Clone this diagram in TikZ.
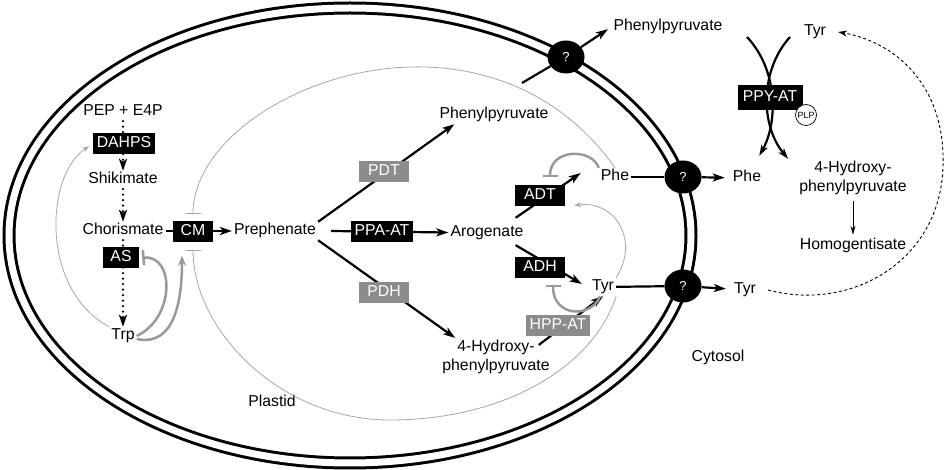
\documentclass[tikz,border=0pt]{standalone}
\usepackage{fontspec}
\setmainfont{Liberation Sans}
\usetikzlibrary{arrows.meta,shapes.geometric}

\begin{document}
\begin{tikzpicture}[x=1pt,y=-1pt,>={Stealth[length=12pt,width=8pt,inset=3pt]},
  font=\fontsize{15.8}{19}\selectfont,inner sep=2pt,
  met/.style={text height=11pt,text depth=3pt},
  enz/.style={met,fill=black,text=white,minimum width=50pt,minimum height=21pt,inner xsep=4pt},
  genz/.style={enz,fill=black!45},
  tp/.style={ellipse,fill=black,text=white,minimum width=37pt,minimum height=33pt,font=\fontsize{13}{13}\selectfont},
  rxn/.style={line width=2.2pt},
  dots/.style={line width=2.6pt,line cap=round,dash pattern=on 0pt off 5.5pt},
  fb/.style={draw=black!40,line width=2.5pt},
  fbthin/.style={draw=black!35,line width=0.8pt},
  inh/.style={-{Bar[width=15pt]}},
  small/.style={-{Stealth[length=7pt,width=5pt]}}]
\useasboundingbox (0,0) rectangle (946,470);

% membrane
\draw[line width=3pt,double=white,double distance=7pt] (350,235.5) ellipse [x radius=341pt,y radius=227.5pt];

% plastid metabolites
\node[met] (pep) at (123,112) {PEP + E4P};
\node[met] (shik) at (123,180) {Shikimate};
\node[met] (chor) at (123,231) {Chorismate};
\node[met] (trp) at (123,336) {Trp};
\node[met] (preph) at (275,231) {Prephenate};
\node[met] (ppyr) at (494,115) {Phenylpyruvate};
\node[met] (aro) at (487,233) {Arogenate};
\node[align=center] (hpp) at (496,357) {4-Hydroxy-\\phenylpyruvate};
\node[met] (phe) at (615,177) {Phe};
\node[met] (tyr) at (603,287) {Tyr};

% cytosol metabolites
\node[met] (ppyr2) at (668,27) {Phenylpyruvate};
\node[met] (phe2) at (747,178) {Phe};
\node[met] (tyr2) at (745,290) {Tyr};
\node[met] (tyr3) at (815,32) {Tyr};
\node[align=center] (hpp2) at (853,178) {4-Hydroxy-\\phenylpyruvate};
\node[met] (hga) at (853,246) {Homogentisate};

\node at (272,401) {Plastid};
\node at (718,357) {Cytosol};

% pathway
\draw[dots,->] (pep) -- (shik);
\draw[dots,->] (shik) -- (chor);
\draw[dots,->] (chor) -- (trp);
\draw[rxn,->] (chor) -- (preph);
\draw[rxn,->] (preph.north east) -- ([xshift=17pt]ppyr.south west);
\draw[rxn,->] ([xshift=13pt]preph.east) -- (aro);
\draw[rxn,->] (preph.south east) -- ([xshift=15pt]hpp.north west);
\draw[rxn,->] ([xshift=-10pt,yshift=6pt]aro.north east) -- ([xshift=-18pt,yshift=4pt]phe.west);
\draw[rxn,->] ([xshift=-10pt,yshift=-3pt]aro.south east) -- ([xshift=-8pt,yshift=3pt]tyr.west);
\draw[rxn,->] ([xshift=-13pt,yshift=-7pt]hpp.north east) -- (tyr.south);

% enzymes
\node[enz] (dahps) at (124,144) {DAHPS};
\node[enz,minimum width=40pt] (cm) at (193,232) {CM};
\node[enz,minimum width=36pt] (as) at (121,258) {AS};
\node[genz] (pdt) at (384,172) {PDT};
\node[enz] (ppaat) at (382,232) {PPA-AT};
\node[genz] (pdh) at (384,293) {PDH};
\node[enz] (adt) at (540,196) {ADT};
\node[enz] (adh) at (540,268) {ADH};
\node[genz] (hppat) at (558,326) {HPP-AT};

% transporters
\node[tp] (tpa) at (566,57) {?};
\node[tp] (tpb) at (683,177) {?};
\node[tp] (tpc) at (683,286) {?};
\coordinate (ppin) at (522,83);
\draw[rxn] (ppin) -- (tpa);
\draw[rxn,->,shorten >=4pt] (tpa) -- (ppyr2.west);
\draw[rxn] (phe) -- (tpb);
\draw[rxn,->,shorten >=6pt] (tpb) -- (phe2);
\draw[rxn] (tyr) -- (tpc);
\draw[rxn,->,shorten >=6pt] (tpc) -- (tyr2);

% regulation
\draw[fbthin,small,shorten >=4pt] (trp.north west) .. controls (40,290) and (45,175) .. (dahps.west);
\draw[fb,inh,shorten >=3pt] (trp.east) .. controls (175,318) and (175,255) .. (as.east);
\draw[fb,-{Stealth[length=10pt,width=8pt]},shorten >=13pt] ([yshift=-3pt]trp.east) .. controls (175,347) and (182,300) .. ([xshift=-11pt]cm.south);
\draw[fbthin,inh,shorten >=7pt] (phe.north) .. controls (560,90) and (480,65) .. (410,67) .. controls (300,70) and (193,140) .. (cm.north);
\draw[fbthin,inh,shorten >=7pt] (tyr.south east) .. controls (592,370) and (500,420) .. (390,420) .. controls (280,420) and (193,330) .. (cm.south);
\draw[fb,inh,shorten >=8pt] (phe.north west) .. controls (592,148) and (550,148) .. ([xshift=10pt]adt.north);
\draw[fb,inh,shorten >=6pt] ([xshift=-3pt]tyr.south) .. controls (592,318) and (553,318) .. ([xshift=13pt]adh.south);
\draw[fbthin,small,shorten >=9pt] (tyr.north east) .. controls (640,240) and (615,200) .. (adt.south east);

% transamination in the cytosol
\coordinate (xa) at (747,37);
\coordinate (xb) at (790,37);
\draw[rxn,-{Stealth[length=11pt,width=7pt,inset=3pt]}] (xa) .. controls (778,70) and (778,122) .. ([xshift=-4pt,yshift=13pt]phe2.north east);
\draw[rxn,-{Stealth[length=11pt,width=7pt,inset=3pt]}] (xb) .. controls (760,70) and (760,125) .. ([xshift=-9pt]hpp2.north west);
\node[enz,minimum width=65pt,minimum height=25pt] (ppyat) at (770,98) {PPY-AT};
\node[circle,draw,line width=.7pt,fill=white,minimum size=21pt,inner sep=0pt,font=\fontsize{9}{9}\selectfont] (plp) at (806,115) {PLP};

\draw[line width=1pt,-{Stealth[length=9pt,width=5pt]},shorten <=4pt,shorten >=2pt] (hpp2) -- (hga);
\draw[line width=.9pt,dash pattern=on 3pt off 2.5pt,-{Stealth[length=9pt,width=6pt]}] ([xshift=10pt]tyr2.east) .. controls (850,312) and (940,262) .. (943,167) .. controls (946,85) and (895,42) .. ([xshift=10pt]tyr3.east);
\end{tikzpicture}
\end{document}
